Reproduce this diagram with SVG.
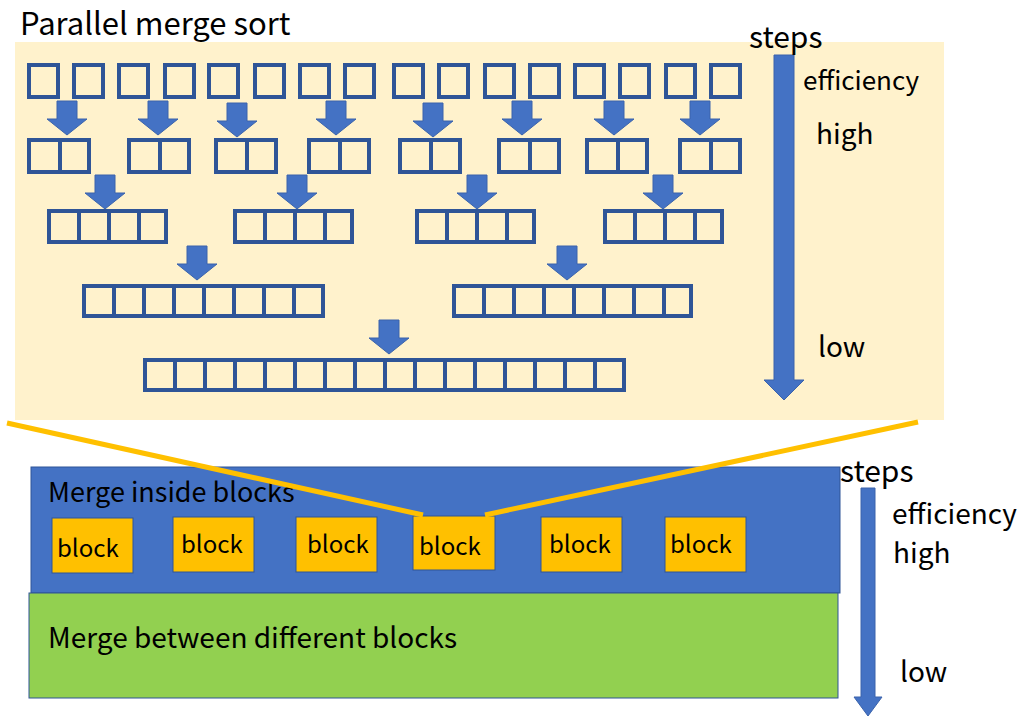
<svg xmlns="http://www.w3.org/2000/svg" xmlns:xlink="http://www.w3.org/1999/xlink" width="1036" height="721" viewBox="0 0 1036 721">
<style>
.c{fill:none;stroke:#2F5597;stroke-width:4}
.t{font-family:"Noto Sans CJK SC","Noto Sans",sans-serif;fill:#000}
.ar{fill:#4472C4;stroke:#3A63AC;stroke-width:1}
.blk{fill:#FFC000;stroke:#2F5597;stroke-width:1}
.yl{stroke:#FFC000;stroke-width:5;fill:none}
</style>
<defs>
<path id="da" class="ar" d="M-10,0H10V18H20L0,34L-20,18H-10Z"/>
</defs>
<rect x="15" y="42" width="929" height="378" fill="#FFF2CC"/>
<text class="t" x="20" y="35" font-size="31">Parallel merge sort</text>
<g id="row1">
<rect class="c" x="29" y="65" width="29" height="32"/><rect class="c" x="74" y="65" width="29" height="32"/>
<rect class="c" x="119" y="65" width="29" height="32"/><rect class="c" x="165" y="65" width="29" height="32"/>
<rect class="c" x="209" y="65" width="29" height="32"/><rect class="c" x="255" y="65" width="29" height="32"/>
<rect class="c" x="300" y="65" width="29" height="32"/><rect class="c" x="345" y="65" width="29" height="32"/>
<rect class="c" x="394" y="65" width="29" height="32"/><rect class="c" x="439" y="65" width="29" height="32"/>
<rect class="c" x="485" y="65" width="29" height="32"/><rect class="c" x="530" y="65" width="29" height="32"/>
<rect class="c" x="575" y="65" width="29" height="32"/><rect class="c" x="620" y="65" width="29" height="32"/>
<rect class="c" x="666" y="65" width="29" height="32"/><rect class="c" x="711" y="65" width="29" height="32"/>
</g>
<g id="row2">
<rect class="c" x="29" y="140" width="31" height="32"/><rect class="c" x="60" y="140" width="29" height="32"/>
<rect class="c" x="129" y="140" width="31" height="32"/><rect class="c" x="160" y="140" width="29" height="32"/>
<rect class="c" x="216" y="140" width="31" height="32"/><rect class="c" x="247" y="140" width="29" height="32"/>
<rect class="c" x="309" y="140" width="31" height="32"/><rect class="c" x="340" y="140" width="29" height="32"/>
<rect class="c" x="400" y="140" width="31" height="32"/><rect class="c" x="431" y="140" width="29" height="32"/>
<rect class="c" x="499" y="140" width="31" height="32"/><rect class="c" x="530" y="140" width="29" height="32"/>
<rect class="c" x="587" y="140" width="31" height="32"/><rect class="c" x="618" y="140" width="29" height="32"/>
<rect class="c" x="680" y="140" width="31" height="32"/><rect class="c" x="711" y="140" width="29" height="32"/>
</g>
<g id="row3">
<path class="c" d="M49,211h117v31h-117zM79,211v31M109,211v31M139,211v31"/>
<path class="c" d="M235,211h117v31h-117zM265,211v31M295,211v31M325,211v31"/>
<path class="c" d="M417,211h117v31h-117zM447,211v31M477,211v31M507,211v31"/>
<path class="c" d="M605,211h117v31h-117zM635,211v31M665,211v31M695,211v31"/>
</g>
<g id="row4">
<path class="c" d="M84,286h239v30h-239zM114,286v30M144,286v30M174,286v30M204,286v30M234,286v30M264,286v30M294,286v30"/>
<path class="c" d="M454,286h237v30h-237zM484,286v30M514,286v30M544,286v30M574,286v30M604,286v30M634,286v30M664,286v30"/>
</g>
<g id="row5">
<path class="c" d="M145,360h479v30h-479zM175,360v30M205,360v30M235,360v30M265,360v30M295,360v30M325,360v30M355,360v30M385,360v30M415,360v30M445,360v30M475,360v30M505,360v30M535,360v30M565,360v30M595,360v30"/>
</g>
<g id="connectors">
<use href="#da" x="67" y="101"/><use href="#da" x="158" y="101"/><use href="#da" x="237" y="103"/><use href="#da" x="336" y="101"/>
<use href="#da" x="433" y="103"/><use href="#da" x="522" y="101"/><use href="#da" x="614" y="101"/><use href="#da" x="700" y="101"/>
<use href="#da" x="105" y="175"/><use href="#da" x="297" y="175"/><use href="#da" x="477" y="175"/><use href="#da" x="663" y="175"/>
<use href="#da" x="197" y="246"/><use href="#da" x="567" y="246"/>
<use href="#da" x="389" y="320"/>
<path class="ar" d="M774,55H794V380H804L784,400L764,380H774Z"/>
<path class="ar" d="M861,488H875V697H882L868,716L854,697H861Z"/>
</g>
<text class="t" x="749" y="48" font-size="30">steps</text>
<text class="t" x="803" y="90" font-size="26">efficiency</text>
<text class="t" x="816" y="144" font-size="28">high</text>
<text class="t" x="818" y="357" font-size="28">low</text>
<g id="inside">
<rect x="31" y="467" width="809" height="126" fill="#4472C4" stroke="#2F5597"/>
<text class="t" x="48" y="502" font-size="27">Merge inside blocks</text>
</g>
<g id="between">
<rect x="29" y="593" width="809" height="105" fill="#92D050" stroke="#2F5597"/>
<text class="t" x="48" y="648" font-size="28">Merge between different blocks</text>
</g>
<g id="blocks" font-size="24">
<rect class="blk" x="52" y="518" width="81" height="55"/><text class="t" x="57" y="557">block</text>
<rect class="blk" x="173" y="517" width="81" height="55"/><text class="t" x="181" y="553">block</text>
<rect class="blk" x="296" y="517" width="81" height="55"/><text class="t" x="307" y="553">block</text>
<rect class="blk" x="413" y="516" width="82" height="54"/><text class="t" x="419" y="555">block</text>
<rect class="blk" x="541" y="517" width="81" height="55"/><text class="t" x="549" y="553">block</text>
<rect class="blk" x="665" y="517" width="81" height="55"/><text class="t" x="670" y="553">block</text>
</g>
<g id="zoomlines">
<path class="yl" d="M7,423L423,515"/>
<path class="yl" d="M485,515L918,422"/>
</g>
<text class="t" x="840" y="482" font-size="30">steps</text>
<text class="t" x="892" y="524" font-size="28">efficiency</text>
<text class="t" x="893" y="563" font-size="28">high</text>
<text class="t" x="900" y="682" font-size="28">low</text>
</svg>
